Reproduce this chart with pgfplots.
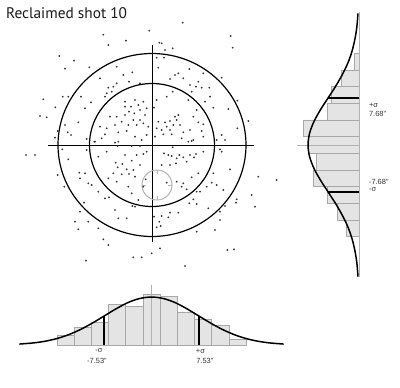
\documentclass[border=0pt]{standalone}
\usepackage{fontspec}
\setmainfont{Liberation Sans}
\newfontfamily\titlefont{PT Sans}
\usepackage{pgfplots}
\pgfplotsset{compat=1.18}
\definecolor{dot}{HTML}{333333}
\definecolor{barfill}{HTML}{E4E4E4}
\definecolor{baredge}{HTML}{A8A8A8}
\begin{document}
\begin{tikzpicture}
\path[use as bounding box] (0,0) rectangle (400bp,-388bp);
\node[anchor=west, inner sep=0pt, text=black!90] at (6bp,-13bp) {\titlefont\fontsize{15.4}{17}\selectfont Reclaimed shot 10};
% ---------------- target with shots (image pixel coordinates)
\begin{axis}[at={(0bp,-388bp)}, anchor=south west, scale only axis,
  width=400bp, height=388bp, xmin=0, xmax=400, ymin=0, ymax=388, y dir=reverse,
  hide axis, clip=false]
\draw[line width=1.2bp, black] (axis cs:152,145) ellipse [x radius=94, y radius=91.5];
\draw[line width=1.2bp, black] (axis cs:152,145) ellipse [x radius=62.5, y radius=61.5];
\addplot[black, line width=1bp] coordinates {(48,145) (254,145)};
\addplot[black, line width=1bp] coordinates {(152,45) (152,242)};
\draw[gray!60, line width=1bp] (axis cs:157,185) circle [radius=15];
\addplot[gray!60, line width=0.8bp] coordinates {(142,185) (146,185)};
\addplot[gray!60, line width=0.8bp] coordinates {(168,185) (172,185)};
\addplot[gray!60, line width=0.8bp] coordinates {(157,170) (157,174)};
\addplot[gray!60, line width=0.8bp] coordinates {(157,196) (157,200)};
\addplot[only marks, mark=*, mark size=0.7bp, dot] coordinates {
(182.7,22.7)(149.3,30.7)(103.3,34.7)(126,40.7)(108.3,45)(161.7,43.3)(59.3,56)(74,60.7)(89.3,67.3)(65,68.7)
(43.3,99.3)(62.7,96.7)(55.3,107.3)(40,116)(46.7,117.3)(26,155)(35,155)(55,137.7)
(116.7,66.7)(132.3,72.3)(100,78.3)(123.3,75)(129,81.7)(116.7,83.3)(113.3,86.7)(108.3,87.7)(111.7,91.7)(106.7,93.3)
(105,96.7)(140,83.3)(81,96.7)(68.3,96.7)(91,102.3)(85,108.3)(125,101.7)(135,100)(143.3,101.7)(138.3,105)
(131,106.7)(125,106.7)(146.7,108.3)(140,110)(134.3,113.3)(129,111.7)(125,115)(145,115)(116.7,116.7)(110,116.7)
(140,120)(133.3,120)(121.7,121.7)(115,125)(128.3,125)(143.3,123.3)(148.3,126.7)(136.7,125)(100,126.7)(106.7,128.3)
(126.7,131)(118.3,132.3)(105,134.3)(101.7,138.3)(146.7,135)(135,136.7)(141.7,140)(78.3,122.3)(65,125)(67.7,132.3)
(71,135)(86.7,139)(94.3,141.7)(118.3,141.7)(57.7,131)
(172.7,48.3)(232.7,47.7)(165,50)(156.7,57.7)(164,57.7)(158.3,67.7)(189.3,69)(178.3,73.3)(175,75)(203.3,73.3)
(170,79)(183.3,78.3)(221.7,77.7)(198.3,81.7)(190,85)(196,86.7)(201.7,87.7)(209.3,87.7)(172.7,91.7)(191.7,91.7)
(166.7,96.7)(156.7,100)(188.3,100)(210,96.7)(213.3,107.7)(205,101.7)(154,107.7)(196.7,110)(228.3,109)(178.3,115)
(175,116.7)(193.3,116.7)(158.3,121.7)(165,122.3)(170,121)(176.7,120)(166.7,126.7)(173.3,125)(180,125)(156.7,128.3)
(161.7,130)(170,130)(183.3,132.3)(198.3,122.3)(203.3,124.3)(201.7,131)(190,130)(163.3,134.3)(171.7,134.3)(155,136.7)
(181.7,138.3)(193.3,140)(203.3,136.7)(221.7,135)(225,140)(237.3,128.3)(248.3,121)(216.7,140)
(230.7,36)(159.3,42.7)(237.3,100.7)
(95,141.7)(115,142.7)(117.7,146)(131.7,146)(140,146)(62.3,149.3)(86.7,150)(106.7,151.7)(146.7,151.7)(143.3,154)
(125,155)(136.7,155)(98.3,156.7)(68.3,159.3)(115.7,162.7)(122.3,164)(131.7,160.7)(140,165)(117.7,167.3)(126.7,169.3)
(133.3,170)(113.3,173.3)(121.7,174.3)(129,174)(85,173.3)(80,178.3)(108.3,178.3)(135,176.7)(116.7,181.7)(145.7,179.3)
(143.3,186.7)(88.3,183.3)(91.7,185)(64.3,186.7)(128.3,186.7)(98.3,191.7)(131.7,193.3)(105,198.3)(109,197.3)(138.3,200)
(132.3,206)(135,206.7)(115,210)(80,211.7)(118.3,218.3)(126.7,218.3)(88.3,221.7)(75,221.7)(78.3,229.3)(98.3,228.3)
(103.3,239.3)(57.7,175)(79.3,172.7)(108.3,245)(86,260.7)(133.3,257.3)(141.7,257.3)(84,202.7)
(188.3,141.7)(191.7,141)(172.7,147.3)(220,149.3)(221.7,151.7)(164,153.3)(168.3,155)(171.7,156)(179.3,155)(183.3,157.3)
(190,155)(194,157.3)(176.7,158.3)(161.7,165)(170,165)(176,163.3)(186.7,161.7)(196,154)(203.3,151.7)(230,169.3)
(198.3,173.3)(191.7,177.3)(213.3,173.3)(166.7,182.7)(176.7,181.7)(183.3,183.3)(211.7,182.7)(216.7,185)(186.7,189.3)(181.7,186.7)
(196.7,191.7)(206.7,186.7)(223.3,190)(236.7,199.3)(236,202.7)(189.3,203.3)(196.7,204)(208.3,208.3)(225,206)(220,211.7)
(170,212.7)(178.3,212.7)(161.7,216)(168.3,217.3)(154,216.7)(159.3,221.7)(156.7,227.3)(160.7,226)(220,220)(215,230)
(200,191.7)(193.3,199.3)
(258.3,176.7)(276.7,180)(251.7,195)(255,206.7)(227.3,250)(234,249.3)(185,266)(151.7,253.3)(160,248.3)(196.7,231.7)
};
\end{axis}
% ---------------- horizontal distribution (inches)
\begin{axis}[at={(18.6bp,-345bp)}, anchor=south west, scale only axis,
  width=265.8bp, height=50bp, xmin=-21.2, xmax=21.2, ymin=0, ymax=50,
  hide axis, clip=false]
\addplot[ybar interval, fill=barfill, draw=baredge, line width=0.5bp] coordinates {
(-15.07,9.7)(-12.33,17.3)(-9.59,22.8)(-6.85,40.8)(-4.11,38.7)(-1.37,50.3)(1.37,48.7)(4.11,32.5)(6.85,25.3)(9.59,19.6)(12.33,5.4)(15.07,0)};
\addplot[gray!60, line width=0.5bp] coordinates {(0,0) (0,60)};
\addplot[smooth, black, line width=1.5bp] coordinates {
(-21.08,0.95)(-18.83,2.1)(-16.94,3.8)(-15.06,6.5)(-13.18,10.4)(-11.30,15.6)(-9.41,22.0)(-7.53,29.1)(-5.65,36.2)(-3.77,42.4)(-1.88,46.5)(0,48)
(1.88,46.5)(3.77,42.4)(5.65,36.2)(7.53,29.1)(9.41,22.0)(11.30,15.6)(13.18,10.4)(15.06,6.5)(16.94,3.8)(18.83,2.1)(21.08,0.95)};
\addplot[black, line width=1.8bp] coordinates {(-7.53,0) (-7.53,29.1)};
\addplot[black, line width=1.8bp] coordinates {(7.53,0) (7.53,29.1)};
\node[font=\fontsize{7.5}{8}\selectfont, text=black!80] at (axis cs:-8.4,-6) {-σ};
\node[font=\fontsize{7.5}{8}\selectfont, text=black!80] at (axis cs:-8.7,-16) {-7.53"};
\node[font=\fontsize{7.5}{8}\selectfont, text=black!80] at (axis cs:7.8,-6) {+σ};
\node[font=\fontsize{7.5}{8}\selectfont, text=black!80] at (axis cs:8.5,-16) {7.53"};
\end{axis}
% ---------------- vertical distribution (inches)
\begin{axis}[at={(299bp,-279.6bp)}, anchor=south west, scale only axis,
  width=60bp, height=269.3bp, xmin=0, xmax=60, x dir=reverse, ymin=-22, ymax=22,
  hide axis, clip=false]
\addplot[xbar interval, fill=barfill, draw=baredge, line width=0.5bp] coordinates {
(13,-14.98)(22,-12.26)(32,-9.53)(46,-6.81)(43,-4.09)(51,-1.36)(56,1.36)(32,4.09)(28,6.81)(18,9.53)(5,12.26)(0,14.98)};
\addplot[gray!60, line width=0.5bp] coordinates {(0,-21.5) (0,21.8)};
\addplot[gray!60, line width=0.5bp] coordinates {(0,0) (62,0)};
\addplot[smooth, black, line width=1.5bp] coordinates {
(1.0,-21.50)(2.2,-19.20)(4.1,-17.28)(6.9,-15.36)(11.0,-13.44)(16.6,-11.52)(23.3,-9.60)(30.9,-7.68)(38.5,-5.76)(45.0,-3.84)(49.4,-1.92)(51,0)
(49.4,1.92)(45.0,3.84)(38.5,5.76)(30.9,7.68)(23.3,9.60)(16.6,11.52)(11.0,13.44)(6.9,15.36)(4.1,17.28)(2.2,19.20)(1.0,21.50)};
\addplot[black, line width=1.8bp] coordinates {(0,7.68) (30.9,7.68)};
\addplot[black, line width=1.8bp] coordinates {(0,-7.68) (30.9,-7.68)};
\node[anchor=west, font=\fontsize{7.5}{8}\selectfont, text=black!80] at (axis cs:-6.5,6.54) {+σ};
\node[anchor=west, font=\fontsize{7.5}{8}\selectfont, text=black!80] at (axis cs:-6.5,5.07) {7.68"};
\node[anchor=west, font=\fontsize{7.5}{8}\selectfont, text=black!80] at (axis cs:-6.5,-6.05) {-7.68"};
\node[anchor=west, font=\fontsize{7.5}{8}\selectfont, text=black!80] at (axis cs:-6.5,-7.35) {-σ};
\end{axis}
\end{tikzpicture}
\end{document}
